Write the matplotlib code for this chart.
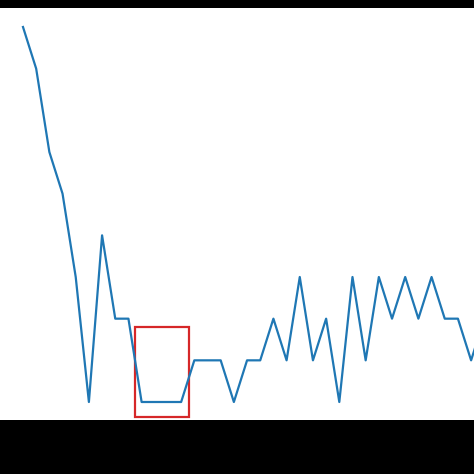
import matplotlib
matplotlib.use("Agg")
import matplotlib.pyplot as plt
from matplotlib.patches import Rectangle

values = [9, 8, 6, 5, 3, 0, 4, 2, 2, 0, 0, 0, 0, 1, 1, 1, 0, 1, 1, 2,
          1, 3, 1, 2, 0, 3, 1, 3, 2, 3, 2, 3, 2, 2, 1, 2]
steps = list(range(len(values)))

highlight_x = (8.5, 12.6)
highlight_y = (-0.36, 1.8)

fig = plt.figure(figsize=(4.74, 4.74), dpi=100, facecolor="black")
ax = fig.add_axes([0, 54 / 474, 1, 412 / 474])
ax.set_facecolor("white")
ax.plot(steps, values, color="#1f77b4", linewidth=1.6)
ax.add_patch(Rectangle((highlight_x[0], highlight_y[0]),
                       highlight_x[1] - highlight_x[0],
                       highlight_y[1] - highlight_y[0],
                       fill=False, edgecolor="#d62728", linewidth=1.6))
ax.set_xlim(-1.745, 34.22)
ax.set_ylim(-0.432, 9.456)
for s in ax.spines.values():
    s.set_visible(False)
ax.set_xticks([])
ax.set_yticks([])
fig.savefig("out.png", dpi=100, facecolor="black")
